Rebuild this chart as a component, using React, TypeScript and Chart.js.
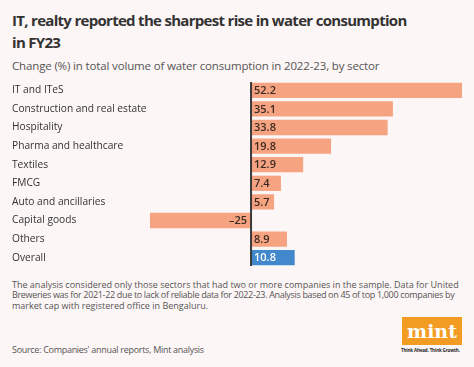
import React, { useEffect, useRef } from "react";
import { Chart, registerables } from "chart.js";

Chart.register(...registerables);

const categories = [
  "IT and ITeS",
  "Construction and real estate",
  "Hospitality",
  "Pharma and healthcare",
  "Textiles",
  "FMCG",
  "Auto and ancillaries",
  "Capital goods",
  "Others",
  "Overall",
];
const values = [52.2, 35.1, 33.8, 19.8, 12.9, 7.4, 5.7, -25, 8.9, 10.8];
const valueLabels = ["52.2", "35.1", "33.8", "19.8", "12.9", "7.4", "5.7", "\u201325", "8.9", "10.8"];

const SALMON = "#f6a381";
const BLUE = "#4189cc";
const BG = "#fdf6f6";
const FONT = "'Open Sans', 'Noto Sans', sans-serif";

const zeroLinePlugin = {
  id: "zeroLine",
  afterDatasetsDraw(chart: any) {
    const { ctx, chartArea, scales } = chart;
    const x0 = scales.x.getPixelForValue(0);
    ctx.save();
    ctx.strokeStyle = "#3a3a3a";
    ctx.lineWidth = 2;
    ctx.beginPath();
    ctx.moveTo(x0, chartArea.top + 1);
    ctx.lineTo(x0, chartArea.bottom - 1);
    ctx.stroke();

    const meta = chart.getDatasetMeta(0);
    ctx.font = `600 11px ${FONT}`;
    ctx.textBaseline = "middle";
    meta.data.forEach((bar: any, i: number) => {
      const v = values[i];
      const y = bar.y;
      if (v >= 0) {
        ctx.textAlign = "left";
        ctx.fillStyle = i === values.length - 1 ? "#ffffff" : "#3b2a22";
        ctx.fillText(valueLabels[i], x0 + 3, y + 0.5);
      } else {
        ctx.textAlign = "right";
        ctx.fillStyle = "#3b2a22";
        ctx.fillText(valueLabels[i], x0 - 4, y + 0.5);
      }
    });
    ctx.restore();
  },
};

export default function App() {
  const ref = useRef<HTMLCanvasElement | null>(null);

  useEffect(() => {
    if (!ref.current) return;
    const chart = new Chart(ref.current, {
      type: "bar",
      data: {
        labels: categories,
        datasets: [
          {
            data: values,
            backgroundColor: values.map((_, i) => (i === values.length - 1 ? BLUE : SALMON)),
            borderWidth: 0,
            barPercentage: 0.82,
            categoryPercentage: 1,
          },
        ],
      },
      options: {
        indexAxis: "y",
        animation: false,
        responsive: false,
        maintainAspectRatio: false,
        layout: { padding: { left: 12, right: 12, top: 8, bottom: 8 } },
        plugins: {
          legend: { display: false },
          tooltip: { enabled: false },
          title: { display: false },
        },
        scales: {
          x: {
            display: false,
            min: -25,
            max: 52.2,
          },
          y: {
            grid: { display: false },
            border: { display: false },
            ticks: {
              crossAlign: "far",
              color: "#333333",
              font: { family: FONT, size: 10.2 },
              padding: 0,
            },
            afterFit(scale: any) {
              scale.width = 138;
            },
          },
        },
      },
      plugins: [zeroLinePlugin],
    });
    return () => chart.destroy();
  }, []);

  const noteStyle: React.CSSProperties = {
    position: "absolute",
    left: 12,
    fontSize: 9,
    color: "#555555",
    whiteSpace: "nowrap",
  };

  return (
    <div
      style={{
        position: "absolute",
        left: 0,
        top: 0,
        width: 474,
        height: 367,
        background: BG,
        fontFamily: FONT,
        overflow: "hidden",
      }}
    >
      <div
        style={{
          position: "absolute",
          left: 12,
          top: 9,
          fontSize: 15,
          fontWeight: 700,
          lineHeight: "22px",
          color: "#333333",
          letterSpacing: -0.7,
          whiteSpace: "nowrap",
        }}
      >
        IT, realty reported the sharpest rise in water consumption
        <br />
        in FY23
      </div>
      <div
        style={{
          position: "absolute",
          left: 12,
          top: 58,
          fontSize: 11.5,
          lineHeight: "16px",
          letterSpacing: -0.15,
          color: "#555555",
          whiteSpace: "nowrap",
        }}
      >
        Change (%) in total volume of water consumption in 2022-23, by sector
      </div>
      <div style={{ position: "absolute", left: 0, top: 73, width: 474, height: 202 }}>
        <canvas ref={ref} width={474} height={202} style={{ display: "block" }} />
      </div>
      <div style={{ ...noteStyle, top: 279.5, lineHeight: "10.7px" }}>
        <div>
          The analysis considered only those sectors that had two or more companies in the sample. Data for United
        </div>
        <div style={{ letterSpacing: -0.33 }}>
          Breweries was for 2021-22 due to lack of reliable data for 2022-23. Analysis based on 45 of top 1,000 companies by
        </div>
        <div>market cap with registered office in Bengaluru.</div>
      </div>
      <div style={{ ...noteStyle, top: 343, lineHeight: "13px", letterSpacing: -0.3 }}>
        Source: Companies' annual reports, Mint analysis
      </div>
      <div
        style={{
          position: "absolute",
          left: 402,
          top: 317,
          width: 60,
          height: 28,
          background: "#f39c24",
          color: "#ffffff",
          fontFamily: "'DejaVu Serif', 'Liberation Serif', serif",
          fontWeight: 700,
          fontSize: 19,
          lineHeight: "28px",
          textAlign: "center",
        }}
      >
        mint
      </div>
      <div
        style={{
          position: "absolute",
          left: 401,
          top: 347,
          fontSize: 9,
          fontWeight: 700,
          color: "#222222",
          whiteSpace: "nowrap",
          transform: "scale(0.5)",
          transformOrigin: "0 0",
          letterSpacing: -0.3,
        }}
      >
        Think Ahead. Think Growth.
      </div>
    </div>
  );
}
